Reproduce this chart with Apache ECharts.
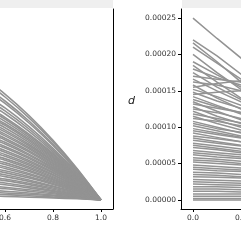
<!DOCTYPE html>
<html>
<head>
<meta charset="utf-8">
<script src="https://cdn.jsdelivr.net/npm/echarts@6/dist/echarts.min.js"></script>
<style>
  html, body { margin: 0; padding: 0; background: #fff; }
  #chart { width: 241px; height: 241px; }
</style>
</head>
<body>
<div id="chart"></div>
<script>
// left panel: curves sampled at these x
const leftX = [0.5, 0.6, 0.7, 0.8, 0.9, 1.0]
const leftCurves = [
  [0.683, 0.582, 0.464, 0.328, 0.173, 0],
  [0.664, 0.566, 0.451, 0.319, 0.168, 0],
  [0.638, 0.544, 0.434, 0.306, 0.162, 0],
  [0.623, 0.531, 0.423, 0.299, 0.158, 0],
  [0.593, 0.506, 0.403, 0.284, 0.150, 0],
  [0.574, 0.490, 0.390, 0.275, 0.145, 0],
  [0.555, 0.474, 0.377, 0.266, 0.141, 0],
  [0.533, 0.454, 0.362, 0.256, 0.135, 0],
  [0.521, 0.445, 0.354, 0.250, 0.132, 0],
  [0.506, 0.432, 0.344, 0.243, 0.128, 0],
  [0.491, 0.419, 0.334, 0.236, 0.124, 0],
  [0.480, 0.410, 0.326, 0.230, 0.122, 0],
  [0.465, 0.397, 0.316, 0.223, 0.118, 0],
  [0.450, 0.384, 0.306, 0.216, 0.114, 0],
  [0.439, 0.374, 0.298, 0.211, 0.111, 0],
  [0.424, 0.362, 0.288, 0.203, 0.107, 0],
  [0.413, 0.352, 0.281, 0.198, 0.105, 0],
  [0.398, 0.339, 0.270, 0.191, 0.101, 0],
  [0.386, 0.330, 0.263, 0.185, 0.098, 0],
  [0.371, 0.317, 0.252, 0.178, 0.094, 0],
  [0.360, 0.307, 0.245, 0.173, 0.091, 0],
  [0.345, 0.294, 0.235, 0.166, 0.087, 0],
  [0.334, 0.285, 0.227, 0.160, 0.085, 0],
  [0.319, 0.272, 0.217, 0.153, 0.081, 0],
  [0.308, 0.262, 0.209, 0.148, 0.078, 0],
  [0.293, 0.250, 0.199, 0.140, 0.074, 0],
  [0.281, 0.240, 0.191, 0.135, 0.071, 0],
  [0.266, 0.227, 0.181, 0.128, 0.067, 0],
  [0.255, 0.218, 0.173, 0.122, 0.065, 0],
  [0.240, 0.205, 0.163, 0.115, 0.061, 0],
  [0.229, 0.195, 0.156, 0.110, 0.058, 0],
  [0.214, 0.182, 0.145, 0.103, 0.054, 0],
  [0.203, 0.173, 0.138, 0.097, 0.051, 0],
  [0.188, 0.160, 0.128, 0.090, 0.048, 0],
  [0.176, 0.150, 0.120, 0.085, 0.045, 0],
  [0.161, 0.138, 0.110, 0.077, 0.041, 0],
  [0.150, 0.128, 0.102, 0.072, 0.038, 0],
  [0.135, 0.115, 0.092, 0.065, 0.034, 0],
  [0.124, 0.106, 0.084, 0.059, 0.031, 0],
  [0.109, 0.093, 0.074, 0.052, 0.028, 0],
  [0.098, 0.083, 0.066, 0.047, 0.025, 0],
  [0.083, 0.070, 0.056, 0.040, 0.021, 0],
  [0.071, 0.061, 0.048, 0.034, 0.018, 0],
  [0.056, 0.048, 0.038, 0.027, 0.014, 0],
  [0.045, 0.038, 0.031, 0.022, 0.011, 0],
  [0.034, 0.029, 0.023, 0.016, 0.009, 0],
  [0.023, 0.019, 0.015, 0.011, 0.006, 0]
]

// right panel (d): curves sampled at these x
const rightX = [0, 0.1, 0.2, 0.3]
const rightCurves = [
  [2.50e-4, 2.22e-4, 1.95e-4, 1.70e-4],
  [2.20e-4, 1.98e-4, 1.73e-4, 1.50e-4],
  [2.16e-4, 1.90e-4, 1.62e-4, 1.40e-4],
  [2.10e-4, 1.88e-4, 1.66e-4, 1.45e-4],
  [2.00e-4, 1.75e-4, 1.52e-4, 1.30e-4],
  [1.90e-4, 1.72e-4, 1.55e-4, 1.40e-4],
  [1.85e-4, 1.62e-4, 1.40e-4, 1.22e-4],
  [1.80e-4, 1.68e-4, 1.58e-4, 1.48e-4],
  [1.75e-4, 1.55e-4, 1.38e-4, 1.20e-4],
  [1.70e-4, 1.66e-4, 1.62e-4, 1.58e-4],
  [1.66e-4, 1.50e-4, 1.35e-4, 1.22e-4],
  [1.62e-4, 1.58e-4, 1.50e-4, 1.45e-4],
  [1.58e-4, 1.40e-4, 1.25e-4, 1.10e-4],
  [1.55e-4, 1.60e-4, 1.64e-4, 1.66e-4],
  [1.52e-4, 1.42e-4, 1.30e-4, 1.22e-4],
  [1.48e-4, 1.36e-4, 1.26e-4, 1.15e-4],
  [1.45e-4, 1.48e-4, 1.50e-4, 1.52e-4],
  [1.42e-4, 1.30e-4, 1.18e-4, 1.08e-4],
  [1.38e-4, 1.28e-4, 1.20e-4, 1.12e-4],
  [1.35e-4, 1.22e-4, 1.10e-4, 1.00e-4],
  [1.32e-4, 1.26e-4, 1.20e-4, 1.15e-4],
  [1.28e-4, 1.15e-4, 1.05e-4, 0.95e-4],
  [1.25e-4, 1.20e-4, 1.12e-4, 1.06e-4],
  [1.22e-4, 1.10e-4, 1.00e-4, 0.92e-4],
  [1.18e-4, 1.12e-4, 1.06e-4, 1.00e-4],
  [1.15e-4, 1.05e-4, 0.96e-4, 0.88e-4],
  [1.12e-4, 1.08e-4, 1.02e-4, 0.98e-4],
  [1.08e-4, 1.00e-4, 0.92e-4, 0.85e-4],
  [1.05e-4, 0.98e-4, 0.93e-4, 0.88e-4],
  [1.02e-4, 0.95e-4, 0.88e-4, 0.82e-4],
  [0.98e-4, 0.92e-4, 0.86e-4, 0.80e-4],
  [0.95e-4, 0.90e-4, 0.85e-4, 0.80e-4],
  [0.92e-4, 0.86e-4, 0.80e-4, 0.75e-4],
  [0.88e-4, 0.84e-4, 0.80e-4, 0.76e-4],
  [0.85e-4, 0.80e-4, 0.75e-4, 0.70e-4],
  [0.82e-4, 0.78e-4, 0.74e-4, 0.70e-4],
  [0.78e-4, 0.74e-4, 0.70e-4, 0.66e-4],
  [0.75e-4, 0.71e-4, 0.67e-4, 0.63e-4],
  [0.72e-4, 0.69e-4, 0.65e-4, 0.62e-4],
  [0.68e-4, 0.65e-4, 0.62e-4, 0.59e-4],
  [0.65e-4, 0.62e-4, 0.59e-4, 0.56e-4],
  [0.62e-4, 0.59e-4, 0.57e-4, 0.54e-4],
  [0.58e-4, 0.56e-4, 0.53e-4, 0.51e-4],
  [0.55e-4, 0.53e-4, 0.50e-4, 0.48e-4],
  [0.52e-4, 0.50e-4, 0.48e-4, 0.46e-4],
  [0.48e-4, 0.46e-4, 0.44e-4, 0.42e-4],
  [0.45e-4, 0.43e-4, 0.41e-4, 0.40e-4],
  [0.42e-4, 0.40e-4, 0.39e-4, 0.37e-4],
  [0.38e-4, 0.37e-4, 0.35e-4, 0.34e-4],
  [0.35e-4, 0.34e-4, 0.32e-4, 0.31e-4],
  [0.32e-4, 0.31e-4, 0.30e-4, 0.29e-4],
  [0.28e-4, 0.27e-4, 0.26e-4, 0.25e-4],
  [0.25e-4, 0.24e-4, 0.23e-4, 0.22e-4],
  [0.22e-4, 0.21e-4, 0.20e-4, 0.20e-4],
  [0.18e-4, 0.18e-4, 0.17e-4, 0.17e-4],
  [0.15e-4, 0.15e-4, 0.14e-4, 0.14e-4],
  [0.12e-4, 0.12e-4, 0.11e-4, 0.11e-4],
  [0.08e-4, 0.08e-4, 0.08e-4, 0.08e-4],
  [0.05e-4, 0.05e-4, 0.05e-4, 0.05e-4],
  [0.02e-4, 0.02e-4, 0.02e-4, 0.02e-4],
  [0, 0, 0, 0]
]

const xTicks = [0, 0.2, 0.4, 0.6, 0.8, 1.0]
const dTicks = [0, 0.00005, 0.0001, 0.00015, 0.0002, 0.00025]

const lineColor = '#939393'
const labelStyle = { fontFamily: 'DejaVu Sans', fontSize: 7.5, color: '#333' }

const series = []
leftCurves.forEach(c => {
  series.push({
    type: 'line', xAxisIndex: 0, yAxisIndex: 0,
    data: leftX.map((x, i) => [x, c[i]]),
    showSymbol: false, smooth: 0.3, silent: true,
    lineStyle: { color: lineColor, width: 1.6 }
  })
})
rightCurves.forEach(c => {
  series.push({
    type: 'line', xAxisIndex: 1, yAxisIndex: 2,
    data: rightX.map((x, i) => [x, c[i]]),
    showSymbol: false, silent: true,
    lineStyle: { color: lineColor, width: 1.5 }
  })
})

const xAxisBase = (grid) => ({
  type: 'value', gridIndex: grid, min: -0.05, max: 1.05,
  axisLine: { onZero: false, lineStyle: { color: '#000', width: 1 } },
  axisTick: { customValues: xTicks, length: 3, lineStyle: { color: '#000' } },
  axisLabel: Object.assign({ customValues: xTicks, margin: 5, formatter: v => v.toFixed(1) }, labelStyle),
  splitLine: { show: false }
})

const chart = echarts.init(document.getElementById('chart'), null, { renderer: 'canvas' })
chart.setOption({
  animation: false,
  backgroundColor: '#fff',
  grid: [
    { left: -151, top: 9, width: 264, height: 200, outerBoundsMode: 'none' },
    { left: 181, top: 9, width: 264, height: 200, outerBoundsMode: 'none' }
  ],
  xAxis: [xAxisBase(0), xAxisBase(1)],
  yAxis: [
    { type: 'value', gridIndex: 0, min: -0.05, max: 1.05, show: false },
    {
      type: 'value', gridIndex: 0, min: -0.05, max: 1.05, position: 'right',
      axisLine: { show: true, onZero: false, lineStyle: { color: '#000', width: 1 } },
      axisTick: { show: false }, axisLabel: { show: false }, splitLine: { show: false }
    },
    {
      type: 'value', gridIndex: 1, min: -0.0000125, max: 0.0002625,
      name: 'd', nameLocation: 'middle', nameGap: 46, nameRotate: 0,
      nameTextStyle: { fontFamily: 'DejaVu Sans', fontStyle: 'italic', fontSize: 11, color: '#222', verticalAlign: 'bottom', padding: [0, 0, 2, 0] },
      axisLine: { show: true, onZero: false, lineStyle: { color: '#000', width: 1 } },
      axisTick: { show: true, customValues: dTicks, length: 3, lineStyle: { color: '#000' } },
      axisLabel: Object.assign({ customValues: dTicks, margin: 5, formatter: v => v.toFixed(5) }, labelStyle),
      splitLine: { show: false }
    }
  ],
  graphic: [
    { type: 'rect', shape: { x: 0, y: 0, width: 113, height: 8 }, style: { fill: '#efefef' }, silent: true },
    { type: 'rect', shape: { x: 182, y: 0, width: 59, height: 8 }, style: { fill: '#efefef' }, silent: true }
  ],
  series: series
})
</script>
</body>
</html>
